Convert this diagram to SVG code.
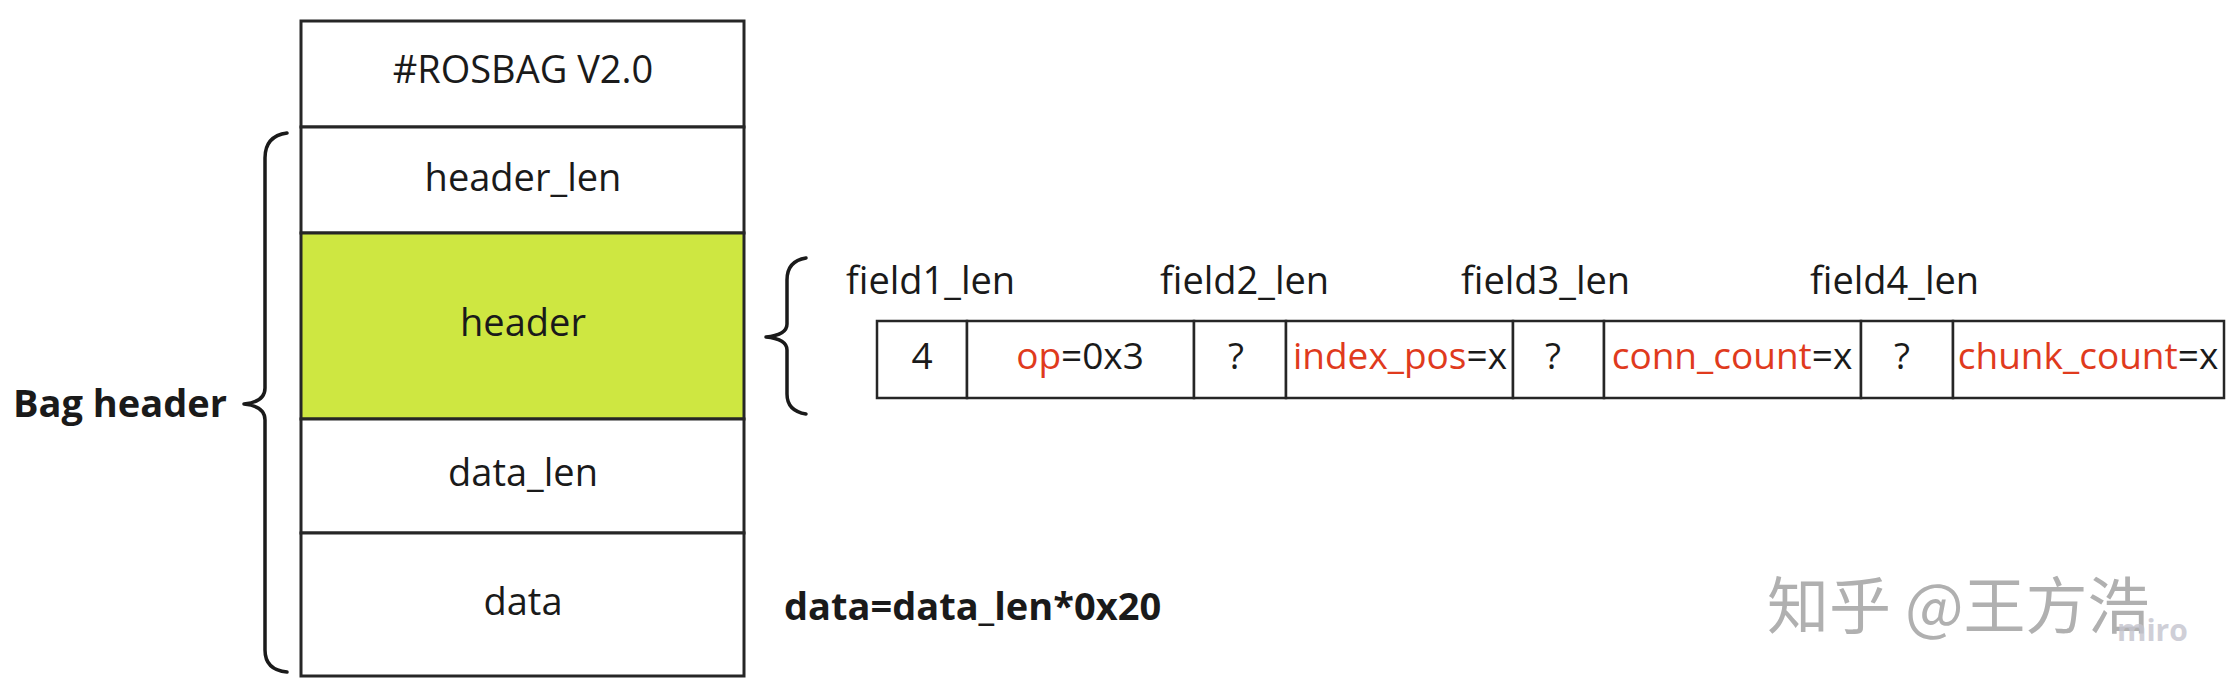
<svg xmlns="http://www.w3.org/2000/svg" width="2240" height="697" viewBox="0 0 2240 697">
<style>
.t{font-family:"Open Sans","Liberation Sans",sans-serif;font-size:38px;fill:#1a1a1a}
.s{font-size:37px}
.c{text-anchor:middle}
.b{font-weight:bold}
.r{fill:#e03a1d}
.cell{fill:#ffffff;stroke:#262626;stroke-width:3}
.fld{fill:#ffffff;stroke:#262626;stroke-width:2.5}
.br{fill:none;stroke:#1a1a1a;stroke-width:3.5;stroke-linecap:round;stroke-linejoin:round}
</style>
<rect width="2240" height="697" fill="#ffffff"/>
<g id="stack">
<g id="rosbag"><rect class="cell" x="301" y="21" width="443" height="106"/><text class="t c" x="523" y="83">#ROSBAG V2.0</text></g>
<g id="header_len"><rect class="cell" x="301" y="127" width="443" height="106"/><text class="t c" x="523" y="191">header_len</text></g>
<g id="header"><rect class="cell" x="301" y="233" width="443" height="186" style="fill:#cee741"/><text class="t c" x="523" y="336">header</text></g>
<g id="data_len"><rect class="cell" x="301" y="419" width="443" height="114"/><text class="t c" x="523" y="486">data_len</text></g>
<g id="data"><rect class="cell" x="301" y="533" width="443" height="143"/><text class="t c" x="523" y="615">data</text></g>
</g>
<g id="bag_header_label"><text class="t b" x="13" y="417">Bag header</text></g>
<g id="data_formula"><text class="t b" x="784" y="620">data=data_len*0x20</text></g>
<g id="field_labels">
<text class="t" x="846" y="294">field1_len</text>
<text class="t" x="1160" y="294">field2_len</text>
<text class="t" x="1461" y="294">field3_len</text>
<text class="t" x="1810" y="294">field4_len</text>
</g>
<g id="fields">
<g id="f1len"><rect class="fld" x="877" y="321" width="90" height="77"/><text class="t s c" x="922" y="369">4</text></g>
<g id="f1"><rect class="fld" x="967" y="321" width="227" height="77"/><text class="t s c" x="1080" y="369"><tspan class="r">op</tspan>=0x3</text></g>
<g id="f2len"><rect class="fld" x="1194" y="321" width="92" height="77"/><text class="t s c" x="1236" y="369">?</text></g>
<g id="f2"><rect class="fld" x="1286" y="321" width="227" height="77"/><text class="t s c" x="1400" y="369"><tspan class="r">index_pos</tspan>=x</text></g>
<g id="f3len"><rect class="fld" x="1513" y="321" width="91" height="77"/><text class="t s c" x="1553" y="369">?</text></g>
<g id="f3"><rect class="fld" x="1604" y="321" width="257" height="77"/><text class="t s c" x="1732" y="369"><tspan class="r">conn_count</tspan>=x</text></g>
<g id="f4len"><rect class="fld" x="1861" y="321" width="92" height="77"/><text class="t s c" x="1902" y="369">?</text></g>
<g id="f4"><rect class="fld" x="1953" y="321" width="271" height="77"/><text class="t s c" x="2088" y="369"><tspan class="r">chunk_count</tspan>=x</text></g>
</g>
<g id="connectors">
<path class="br" d="M287,133 Q265,136 265,158 L265,388 Q265,402 244,404 Q265,406 265,420 L265,650 Q265,670 287,672"/>
<path class="br" d="M806,258 Q787,261 787,280 L787,324 Q787,335 766,337 Q787,339 787,350 L787,394 Q787,411 806,414"/>
</g>
<g id="watermark">
<text x="1767" y="629" style="font-family:'Noto Sans CJK SC',sans-serif;font-size:62px;fill:#b0b0b0">知乎 @王方浩</text>
<text x="2117" y="641" style="font-family:'Open Sans',sans-serif;font-size:30px;font-weight:bold;fill:#c4c4ce;opacity:0.8">miro</text>
</g>
</svg>
